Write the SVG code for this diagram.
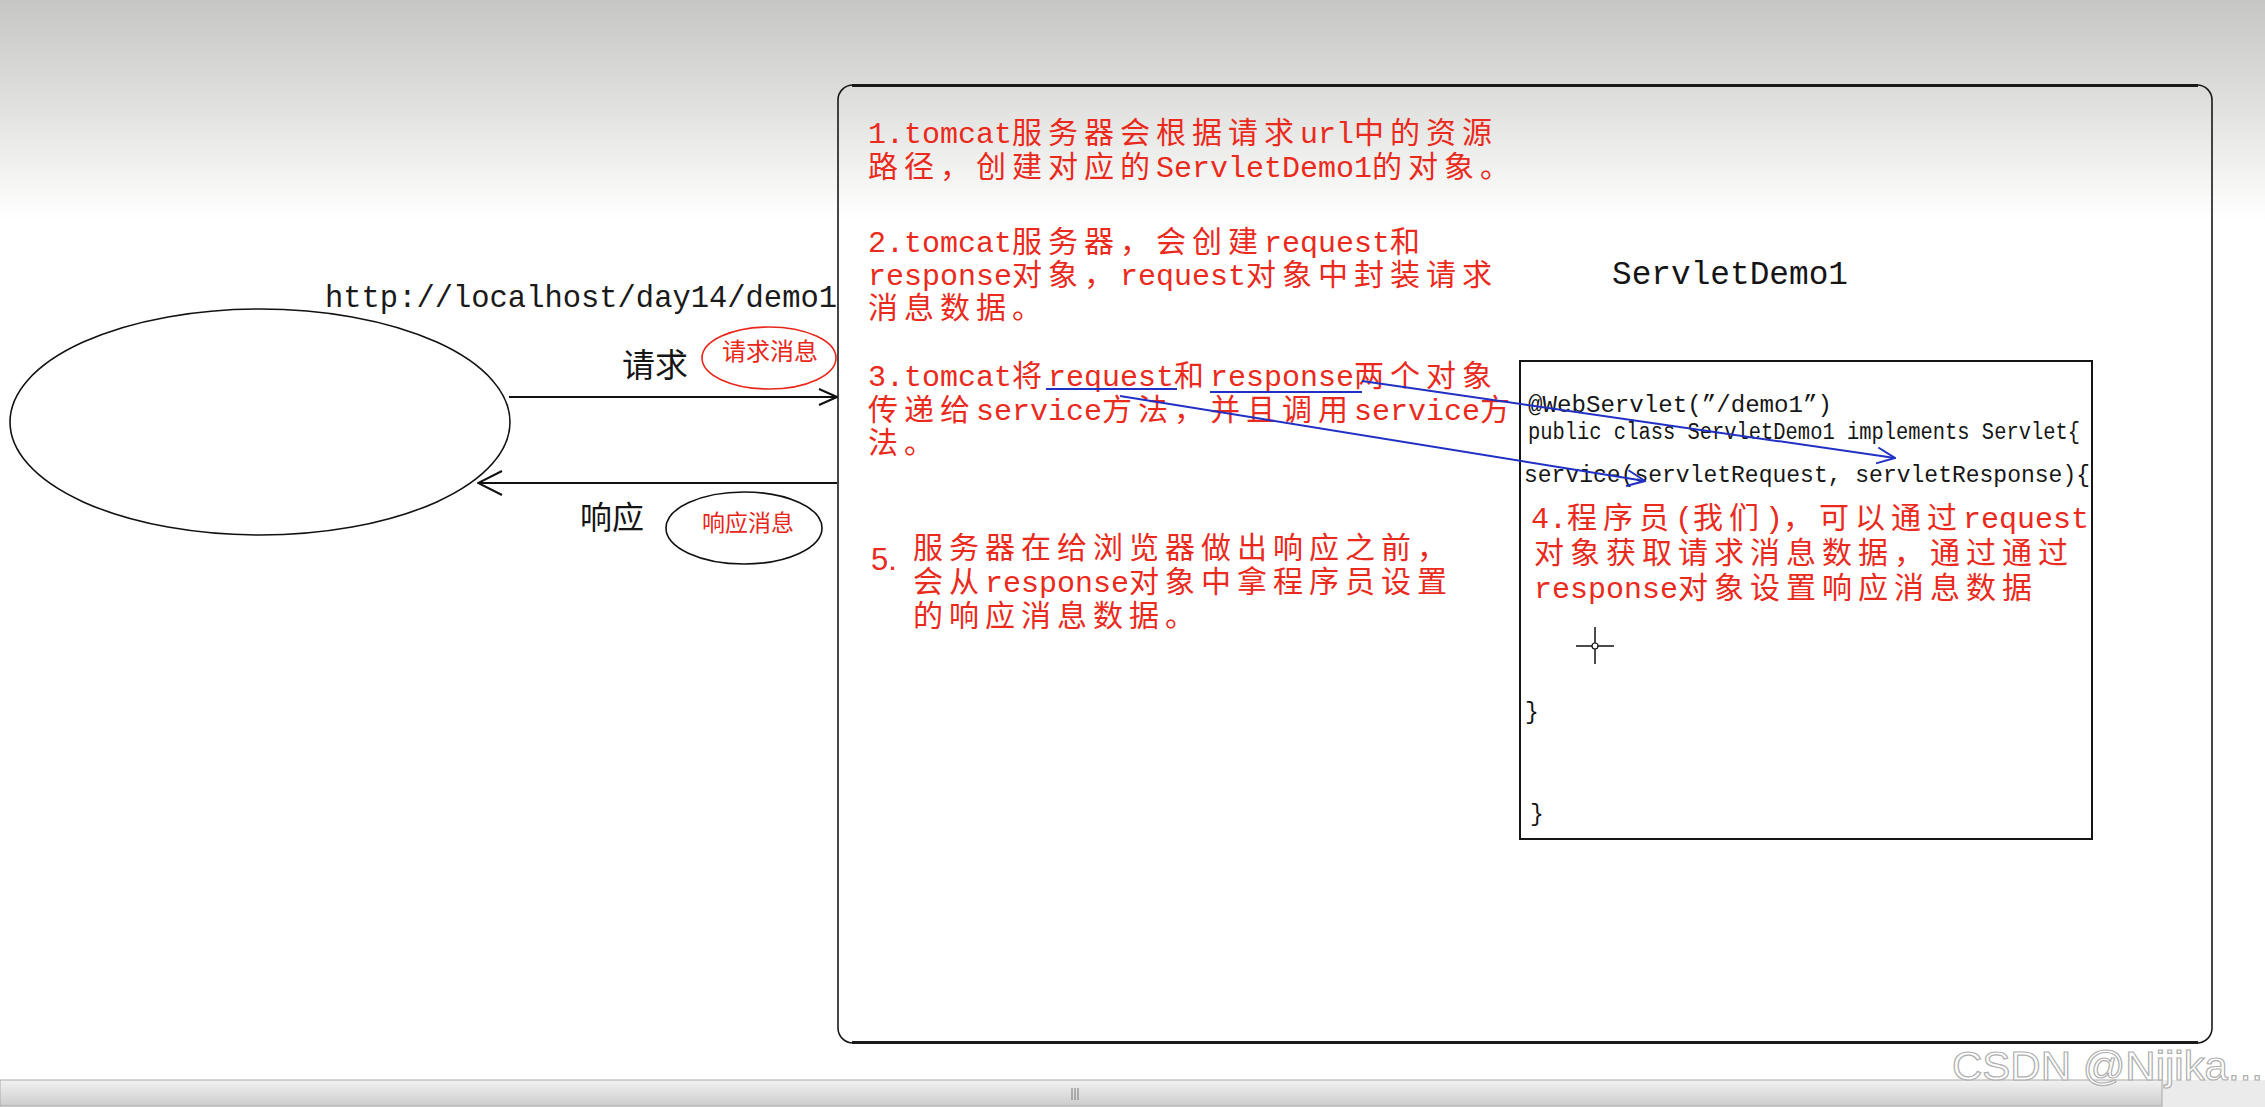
<svg xmlns="http://www.w3.org/2000/svg" width="2265" height="1107" viewBox="0 0 2265 1107">
<defs>
<linearGradient id="bg" x1="0" y1="0" x2="0" y2="1">
<stop offset="0" stop-color="#c6c7c4"/>
<stop offset="0.08" stop-color="#dcdddb"/>
<stop offset="0.16" stop-color="#f4f4f3"/>
<stop offset="0.2" stop-color="#ffffff"/>
<stop offset="1" stop-color="#ffffff"/>
</linearGradient>
<linearGradient id="sb" x1="0" y1="0" x2="0" y2="1">
<stop offset="0" stop-color="#f2f2f2"/>
<stop offset="1" stop-color="#cdcdcd"/>
</linearGradient>
<marker id="ab" viewBox="0 0 20 20" refX="19" refY="10" markerWidth="20" markerHeight="20" orient="auto" markerUnits="userSpaceOnUse">
<path d="M1,2 L19,10 L1,18" fill="none" stroke="#111" stroke-width="2"/>
</marker>
<marker id="ab2" viewBox="0 0 26 26" refX="25" refY="13" markerWidth="26" markerHeight="26" orient="auto" markerUnits="userSpaceOnUse">
<path d="M1,1 L25,13 L1,25" fill="none" stroke="#111" stroke-width="2"/>
</marker>
<marker id="bb" viewBox="0 0 20 20" refX="19" refY="10" markerWidth="20" markerHeight="20" orient="auto" markerUnits="userSpaceOnUse">
<path d="M1,2 L19,10 L1,18" fill="none" stroke="#2130c4" stroke-width="2"/>
</marker>
</defs>
<style>
.r { font-family: "Liberation Mono", "Noto Sans CJK SC", monospace; font-size: 30px; fill: #ea2a1c; }
.k { letter-spacing: 6px; }
.blk { font-family: "Noto Sans CJK SC", sans-serif; fill: #151515; }
.rs { font-family: "Noto Sans CJK SC", sans-serif; fill: #e8261a; }
.code { font-family: "Liberation Mono", "DejaVu Sans Mono", monospace; font-size: 23px; fill: #161616; }
.line { fill: none; stroke: #111; stroke-width: 2; }
.blue { fill: none; stroke: #2130c4; stroke-width: 2; }
</style>
<rect x="0" y="0" width="2265" height="1107" fill="url(#bg)"/>

<g id="browser">
<ellipse cx="260" cy="422" rx="250" ry="113" fill="none" stroke="#111" stroke-width="1.6"/>
</g>

<g id="url-label">
<text x="325" y="307" font-family="Liberation Mono, monospace" font-size="30.5" fill="#1a1a1a" textLength="512" lengthAdjust="spacingAndGlyphs">http://localhost/day14/demo1</text>
</g>

<g id="request-label">
<text class="blk" x="622" y="377" font-size="33">请求</text>
</g>
<g id="request-msg">
<ellipse cx="769" cy="358" rx="67" ry="31" fill="none" stroke="#e8261a" stroke-width="1.6"/>
<text class="rs" x="770" y="360" font-size="24" text-anchor="middle">请求消息</text>
</g>

<g id="response-label">
<text class="blk" x="580" y="529" font-size="32">响应</text>
</g>
<g id="response-msg">
<ellipse cx="744" cy="528" rx="78" ry="36" fill="none" stroke="#111" stroke-width="1.6"/>
<text class="rs" x="748" y="531" font-size="23" text-anchor="middle">响应消息</text>
</g>

<g id="server">
<rect x="838" y="85" width="1374" height="958" rx="15" ry="15" fill="none" stroke="#1a1a1a" stroke-width="1.6"/>
<line x1="852" y1="85.5" x2="2198" y2="85.5" stroke="#1a1a1a" stroke-width="3"/>
<line x1="852" y1="1042.5" x2="2198" y2="1042.5" stroke="#1a1a1a" stroke-width="3"/>
</g>

<g id="step1">
<text class="r" x="868" y="143">1.tomcat<tspan class="k">服务器会根据请求</tspan>url<tspan class="k">中的资源</tspan></text>
<text class="r" x="868" y="177"><tspan class="k">路径，创建对应的</tspan>ServletDemo1<tspan class="k">的对象。</tspan></text>
</g>
<g id="step2">
<text class="r" x="868" y="252">2.tomcat<tspan class="k">服务器，会创建</tspan>request<tspan class="k">和</tspan></text>
<text class="r" x="868" y="285">response<tspan class="k">对象，</tspan>request<tspan class="k">对象中封装请求</tspan></text>
<text class="r" x="868" y="318"><tspan class="k">消息数据。</tspan></text>
</g>
<g id="step3">
<text class="r" x="868" y="386">3.tomcat<tspan class="k">将</tspan>request<tspan class="k">和</tspan>response<tspan class="k">两个对象</tspan></text>
<text class="r" x="868" y="420"><tspan class="k">传递给</tspan>service<tspan class="k">方法，并且调用</tspan>service<tspan class="k">方</tspan></text>
<text class="r" x="868" y="453"><tspan class="k">法。</tspan></text>
</g>
<g id="step5">
<text x="871" y="570" font-family="Liberation Sans, sans-serif" font-size="31" fill="#ea2a1c">5.</text>
<text class="r" x="913" y="558"><tspan class="k">服务器在给浏览器做出响应之前，</tspan></text>
<text class="r" x="913" y="592"><tspan class="k">会从</tspan>response<tspan class="k">对象中拿程序员设置</tspan></text>
<text class="r" x="913" y="626"><tspan class="k">的响应消息数据。</tspan></text>
</g>

<g id="servlet-title">
<text x="1612" y="284" font-family="Liberation Mono, monospace" font-size="33" fill="#151515" textLength="236" lengthAdjust="spacingAndGlyphs">ServletDemo1</text>
</g>

<g id="servlet">
<rect x="1520" y="361" width="572" height="478" fill="none" stroke="#151515" stroke-width="2"/>
<text class="code" x="1528" y="412" textLength="304" lengthAdjust="spacingAndGlyphs">@WebServlet(”/demo1”)</text>
<text class="code" x="1528" y="439" textLength="552" lengthAdjust="spacingAndGlyphs">public class ServletDemo1 implements Servlet{</text>
<text class="code" x="1524" y="482" textLength="566" lengthAdjust="spacingAndGlyphs">service(servletRequest, servletResponse){</text>
<text class="r" x="1531" y="528">4.<tspan class="k">程序员</tspan>(<tspan class="k">我们</tspan>)<tspan class="k">，可以通过</tspan>request</text>
<text class="r" x="1534" y="563"><tspan class="k">对象获取请求消息数据，通过通过</tspan></text>
<text class="r" x="1534" y="598">response<tspan class="k">对象设置响应消息数据</tspan></text>
<text class="code" x="1525" y="719" font-size="25">}</text>
<text class="code" x="1530" y="821" font-size="25">}</text>
</g>

<g id="cursor">
<line x1="1576" y1="646" x2="1614" y2="646" stroke="#111" stroke-width="1.5"/>
<line x1="1595" y1="627" x2="1595" y2="664" stroke="#111" stroke-width="1.5"/>
<circle cx="1595" cy="646" r="3" fill="#fff" stroke="#111" stroke-width="1.2"/>
</g>

<g id="connectors">
<line class="line" x1="509" y1="397" x2="837" y2="397" marker-end="url(#ab)"/>
<line class="line" x1="837" y1="483" x2="478" y2="483" marker-end="url(#ab2)"/>
<line class="blue" x1="1046" y1="389" x2="1177" y2="389"/>
<line class="blue" x1="1210" y1="392" x2="1362" y2="392"/>
<line class="blue" x1="1362" y1="381" x2="1895" y2="458" marker-end="url(#bb)"/>
<line class="blue" x1="1120" y1="396" x2="1645" y2="481" marker-end="url(#bb)"/>
</g>

<g id="scrollbar">
<rect x="0" y="1080" width="2265" height="27" fill="#ebebeb"/>
<rect x="0" y="1080" width="2162" height="26" fill="url(#sb)" stroke="#a9a9a9" stroke-width="1"/>
<line x1="1072" y1="1088" x2="1072" y2="1100" stroke="#777" stroke-width="1"/>
<line x1="1075" y1="1088" x2="1075" y2="1100" stroke="#777" stroke-width="1"/>
<line x1="1078" y1="1088" x2="1078" y2="1100" stroke="#777" stroke-width="1"/>
</g>

<g id="watermark">
<text x="1952" y="1080" font-family="Liberation Sans, sans-serif" font-size="40" fill="#ffffff" fill-opacity="0.85" stroke="#b0b0b0" stroke-width="1.2" textLength="311" lengthAdjust="spacingAndGlyphs">CSDN @Nijika...</text>
</g>
</svg>
